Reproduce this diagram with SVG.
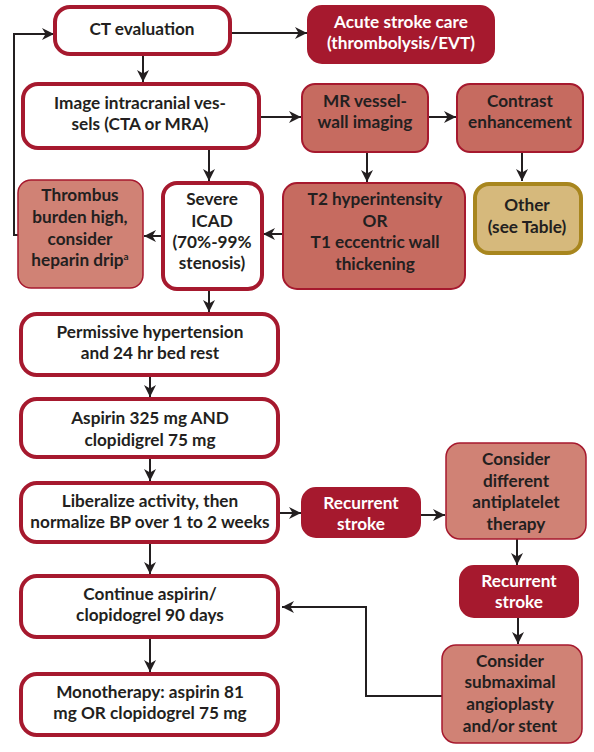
<svg xmlns="http://www.w3.org/2000/svg" width="594" height="752" viewBox="0 0 594 752">
<style>
.w{fill:#fff;stroke:#a6192e;stroke-width:4}
.d{fill:#a6192e;stroke:#a6192e;stroke-width:2}
.m{fill:#c66b60;stroke:#a6192e;stroke-width:2}
.l{fill:#d08275;stroke:#a6192e;stroke-width:1.5}
.o{fill:#d6b97c;stroke:#a8861e;stroke-width:4}
text{font-family:Lato,"Liberation Sans",sans-serif;font-weight:bold;font-size:17.2px;text-anchor:middle;fill:#231f20}
.wt{fill:#fff}
.c{fill:none;stroke:#231f20;stroke-width:2}
</style>
<defs>
<marker id="a" viewBox="0 0 10 10" refX="10" refY="5" markerWidth="6" markerHeight="6" markerUnits="strokeWidth" orient="auto">
<path d="M0,0 L10,5 L0,10 L3,5 Z" fill="#231f20"/>
</marker>
</defs>
<g id="connectors">
<path class="c" d="M230,33 H307" marker-end="url(#a)"/>
<path class="c" d="M143,55 V82" marker-end="url(#a)"/>
<path class="c" d="M259,117 H301" marker-end="url(#a)"/>
<path class="c" d="M428,117 H456" marker-end="url(#a)"/>
<path class="c" d="M367,152 V182" marker-end="url(#a)"/>
<path class="c" d="M522,152 V181" marker-end="url(#a)"/>
<path class="c" d="M209,148 V181" marker-end="url(#a)"/>
<path class="c" d="M283,234 H263" marker-end="url(#a)"/>
<path class="c" d="M162,236 H144" marker-end="url(#a)"/>
<path class="c" d="M18,235 H14 V34 H54" marker-end="url(#a)"/>
<path class="c" d="M209,290 V312" marker-end="url(#a)"/>
<path class="c" d="M150,376 V397" marker-end="url(#a)"/>
<path class="c" d="M150,458 V481" marker-end="url(#a)"/>
<path class="c" d="M278,513 H301" marker-end="url(#a)"/>
<path class="c" d="M420,515 H445" marker-end="url(#a)"/>
<path class="c" d="M517,539 V565" marker-end="url(#a)"/>
<path class="c" d="M518,617 V644" marker-end="url(#a)"/>
<path class="c" d="M150,543 V574" marker-end="url(#a)"/>
<path class="c" d="M150,637 V672" marker-end="url(#a)"/>
<path class="c" d="M442,696 H366 V607 H282" marker-end="url(#a)"/>
</g>
<g id="ct"><rect class="w" x="55" y="7" width="175" height="47" rx="15"/><text x="142" y="35">CT evaluation</text></g>
<g id="acute"><rect class="d" x="308" y="6" width="186" height="57" rx="14"/><text class="wt" x="401" y="28">Acute stroke care</text><text class="wt" x="401" y="49">(thrombolysis/EVT)</text></g>
<g id="image"><rect class="w" x="23" y="84" width="236" height="64" rx="15"/><text x="140" y="109">Image intracranial ves-</text><text x="140" y="130">sels (CTA or MRA)</text></g>
<g id="mr"><rect class="m" x="302" y="84" width="126" height="68" rx="13"/><text x="365" y="107">MR vessel-</text><text x="365" y="128">wall imaging</text></g>
<g id="contrast"><rect class="m" x="457" y="84" width="126" height="68" rx="13"/><text x="520" y="107">Contrast</text><text x="520" y="128">enhancement</text></g>
<g id="thrombus"><rect class="l" x="18" y="180" width="125" height="108" rx="13"/><text x="80" y="201">Thrombus</text><text x="80" y="223">burden high,</text><text x="80" y="245">consider</text><text x="80" y="266">heparin drip<tspan font-size="10" dy="-6">a</tspan></text></g>
<g id="icad"><rect class="w" x="163" y="183" width="99" height="106" rx="14"/><text x="212" y="205">Severe</text><text x="212" y="227">ICAD</text><text x="212" y="248">(70%-99%</text><text x="212" y="269">stenosis)</text></g>
<g id="t2"><rect class="m" x="283" y="183" width="182" height="106" rx="14"/><text x="375" y="205">T2 hyperintensity</text><text x="375" y="227">OR</text><text x="375" y="248">T1 eccentric wall</text><text x="375" y="270">thickening</text></g>
<g id="other"><rect class="o" x="475" y="184" width="106" height="69" rx="14"/><text x="527" y="211">Other</text><text x="527" y="233">(see Table)</text></g>
<g id="permissive"><rect class="w" x="21" y="314" width="257" height="61" rx="16"/><text x="150" y="338">Permissive hypertension</text><text x="150" y="359">and 24 hr bed rest</text></g>
<g id="aspirin"><rect class="w" x="21" y="399" width="257" height="58" rx="16"/><text x="150" y="424">Aspirin 325 mg AND</text><text x="150" y="446">clopidigrel 75 mg</text></g>
<g id="liberalize"><rect class="w" x="21" y="483" width="257" height="59" rx="16"/><text x="150" y="507">Liberalize activity, then</text><text x="150" y="528">normalize BP over 1 to 2 weeks</text></g>
<g id="recurrent1"><rect class="d" x="302" y="488" width="118" height="49" rx="14"/><text class="wt" x="361" y="509">Recurrent</text><text class="wt" x="361" y="530">stroke</text></g>
<g id="different"><rect class="l" x="446" y="443" width="140" height="96" rx="14"/><text x="516" y="465">Consider</text><text x="516" y="487">different</text><text x="516" y="508">antiplatelet</text><text x="516" y="530">therapy</text></g>
<g id="recurrent2"><rect class="d" x="460" y="566" width="118" height="51" rx="14"/><text class="wt" x="519" y="587">Recurrent</text><text class="wt" x="519" y="608">stroke</text></g>
<g id="continue"><rect class="w" x="21" y="576" width="257" height="61" rx="16"/><text x="150" y="600">Continue aspirin/</text><text x="150" y="621">clopidogrel 90 days</text></g>
<g id="submaximal"><rect class="l" x="442" y="645" width="140" height="98" rx="14"/><text x="510" y="667">Consider</text><text x="510" y="688">submaximal</text><text x="510" y="710">angioplasty</text><text x="510" y="732">and/or stent</text></g>
<g id="monotherapy"><rect class="w" x="21" y="674" width="257" height="61" rx="16"/><text x="150" y="698">Monotherapy: aspirin 81</text><text x="150" y="719">mg OR clopidogrel 75 mg</text></g>
</svg>
